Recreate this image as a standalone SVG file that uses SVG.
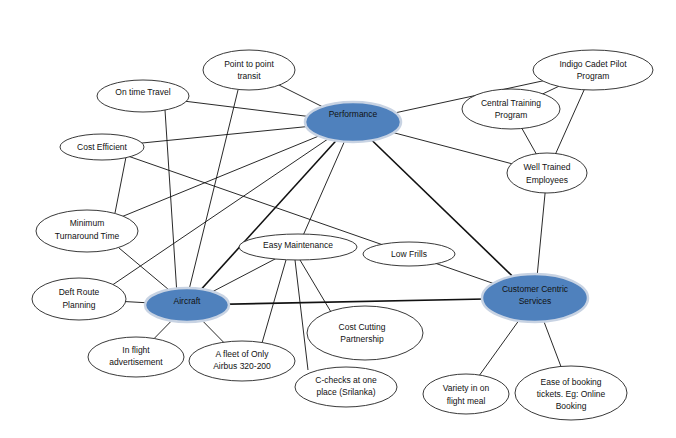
<svg xmlns="http://www.w3.org/2000/svg" width="676" height="438" viewBox="0 0 676 438">
<style>
.n{fill:#fff;stroke:#222;stroke-width:0.9}
.b{fill:#4f81bd;stroke:#c8d3e3;stroke-width:2.5}
text{font-family:"Liberation Sans",Arial,sans-serif;font-size:8.5px;fill:#111;text-anchor:middle}
.c line{stroke:#111;stroke-width:0.9}
.c line.t{stroke-width:1.6}
</style>
<rect width="676" height="438" fill="#fff"/>
<g class="c">
<line x1="353" y1="122" x2="249" y2="70"/>
<line x1="353" y1="122" x2="143" y2="96"/>
<line x1="353" y1="122" x2="102" y2="147"/>
<line x1="353" y1="122" x2="87" y2="231"/>
<line x1="353" y1="122" x2="105" y2="290"/>
<line class="t" x1="353" y1="122" x2="187" y2="305"/>
<line x1="353" y1="122" x2="298" y2="247"/>
<line class="t" x1="353" y1="122" x2="535" y2="298"/>
<line x1="353" y1="122" x2="593" y2="70"/>
<line x1="353" y1="122" x2="547" y2="173"/>
<line x1="165" y1="110" x2="177" y2="295"/>
<line x1="238" y1="90" x2="187" y2="298"/>
<line x1="126" y1="157" x2="115" y2="213"/>
<line x1="102" y1="147" x2="409" y2="254"/>
<line x1="119" y1="248" x2="187" y2="305"/>
<line x1="79" y1="299" x2="187" y2="305"/>
<line x1="187" y1="305" x2="298" y2="247"/>
<line class="t" x1="187" y1="305" x2="535" y2="298"/>
<line x1="187" y1="305" x2="136" y2="357"/>
<line x1="187" y1="305" x2="242" y2="361"/>
<line x1="286" y1="260" x2="262" y2="343"/>
<line x1="295" y1="260" x2="308" y2="370"/>
<line x1="300" y1="260" x2="331" y2="312"/>
<line x1="409" y1="254" x2="535" y2="298"/>
<line x1="593" y1="70" x2="511" y2="109"/>
<line x1="511" y1="109" x2="547" y2="173"/>
<line x1="593" y1="70" x2="547" y2="173"/>
<line x1="547" y1="173" x2="535" y2="298"/>
<line x1="535" y1="298" x2="466" y2="394"/>
<line x1="535" y1="298" x2="571" y2="393"/>
</g>
<g id="performance"><ellipse class="b" cx="353" cy="122" rx="48" ry="20"/><text x="353" y="117">Performance</text></g>
<g id="p2p"><ellipse class="n" cx="249" cy="70" rx="46" ry="20"/><text x="249" y="67">Point to point</text><text x="249" y="79">transit</text></g>
<g id="ontime"><ellipse class="n" cx="143" cy="96" rx="46" ry="16"/><text x="143" y="95">On time Travel</text></g>
<g id="costeff"><ellipse class="n" cx="102" cy="147" rx="42" ry="13"/><text x="102" y="150">Cost Efficient</text></g>
<g id="minturn"><ellipse class="n" cx="87" cy="231" rx="51" ry="21"/><text x="87" y="226">Minimum</text><text x="87" y="239">Turnaround Time</text></g>
<g id="deft"><ellipse class="n" cx="79" cy="299" rx="47" ry="21"/><text x="79" y="295">Deft Route</text><text x="79" y="308">Planning</text></g>
<g id="aircraft"><ellipse class="b" cx="187" cy="305" rx="42" ry="17"/><text x="187" y="304">Aircraft</text></g>
<g id="easy"><ellipse class="n" cx="298" cy="247" rx="59" ry="13"/><text x="298" y="248">Easy Maintenance</text></g>
<g id="lowfrills"><ellipse class="n" cx="409" cy="254" rx="46" ry="12"/><text x="409" y="257">Low Frills</text></g>
<g id="costcut"><ellipse class="n" cx="365" cy="333" rx="58" ry="27"/><text x="362" y="330">Cost Cutting</text><text x="362" y="342">Partnership</text></g>
<g id="cchecks"><ellipse class="n" cx="346" cy="387" rx="51" ry="20"/><text x="346" y="383">C-checks at one</text><text x="346" y="395">place (Srilanka)</text></g>
<g id="inflight"><ellipse class="n" cx="136" cy="357" rx="48" ry="20"/><text x="136" y="353">In flight</text><text x="136" y="365">advertisement</text></g>
<g id="fleet"><ellipse class="n" cx="242" cy="361" rx="53" ry="20"/><text x="242" y="357">A fleet of Only</text><text x="242" y="369">Airbus 320-200</text></g>
<g id="customer"><ellipse class="b" cx="535" cy="298" rx="53" ry="24"/><text x="535" y="292">Customer Centric</text><text x="535" y="304">Services</text></g>
<g id="indigo"><ellipse class="n" cx="593" cy="70" rx="60" ry="20"/><text x="593" y="67">Indigo Cadet Pilot</text><text x="593" y="79">Program</text></g>
<g id="central"><ellipse class="n" cx="511" cy="109" rx="49" ry="20"/><text x="511" y="106">Central Training</text><text x="511" y="118">Program</text></g>
<g id="welltrained"><ellipse class="n" cx="547" cy="173" rx="40" ry="20"/><text x="547" y="170">Well Trained</text><text x="547" y="183">Employees</text></g>
<g id="variety"><ellipse class="n" cx="466" cy="394" rx="43" ry="20"/><text x="466" y="391">Variety in on</text><text x="466" y="404">flight meal</text></g>
<g id="ease"><ellipse class="n" cx="571" cy="393" rx="56" ry="27"/><text x="571" y="385">Ease of booking</text><text x="571" y="397">tickets. Eg: Online</text><text x="571" y="409">Booking</text></g>
</svg>
